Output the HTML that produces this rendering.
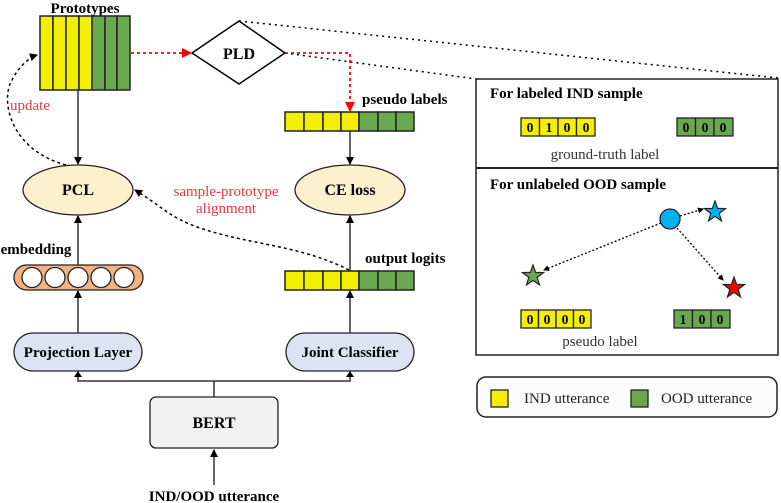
<!DOCTYPE html>
<html><head><meta charset="utf-8"><style>
html,body{margin:0;padding:0;background:#fff;}
svg{display:block;font-family:"Liberation Serif",serif;}
</style></head><body>
<svg width="781" height="503" viewBox="0 0 781 503" xmlns="http://www.w3.org/2000/svg">
<defs>
<marker id="ab" markerWidth="8" markerHeight="8" refX="7" refY="4" orient="auto" markerUnits="userSpaceOnUse"><path d="M0,0 L8,4 L0,8 z" fill="#000"/></marker>
<marker id="ar" markerWidth="10" markerHeight="10" refX="9" refY="5" orient="auto" markerUnits="userSpaceOnUse"><path d="M0,0 L10,5 L0,10 z" fill="#f00"/></marker>
<marker id="as" markerWidth="6" markerHeight="6" refX="5" refY="3" orient="auto" markerUnits="userSpaceOnUse"><path d="M0,0 L6,3 L0,6 z" fill="#000"/></marker>
</defs>
<line x1="239" y1="21" x2="778" y2="78" stroke="#000" stroke-width="1.5" stroke-dasharray="2,4"/>
<line x1="285" y1="53" x2="476" y2="79" stroke="#000" stroke-width="1.5" stroke-dasharray="2,4"/>

<text x="85" y="13" font-size="15" font-weight="bold" text-anchor="middle">Prototypes</text>
<g stroke="#222" stroke-width="1.5">
<rect x="40" y="16" width="13" height="74" fill="#f3ef00"/>
<rect x="53" y="16" width="13" height="74" fill="#f3ef00"/>
<rect x="66" y="16" width="13" height="74" fill="#f3ef00"/>
<rect x="79" y="16" width="13" height="74" fill="#f3ef00"/>
<rect x="92" y="16" width="13" height="74" fill="#6aa84f"/>
<rect x="105" y="16" width="12" height="74" fill="#6aa84f"/>
<rect x="117" y="16" width="13" height="74" fill="#6aa84f"/>
</g>
<polygon points="239,21 285,53 239,84 192,53" fill="#fff" stroke="#000" stroke-width="1.5"/>
<text x="239" y="59" font-size="16" font-weight="bold" text-anchor="middle">PLD</text>
<line x1="131" y1="53" x2="191" y2="53" stroke="#f00" stroke-width="1.8" stroke-dasharray="3,3" marker-end="url(#ar)"/>
<polyline points="285,53 350,53 350,111" fill="none" stroke="#f00" stroke-width="1.8" stroke-dasharray="3,3" marker-end="url(#ar)"/>

<text x="362" y="104" font-size="15" font-weight="bold">pseudo labels</text>
<g stroke="#222" stroke-width="1.5">
<rect x="285" y="112" width="19" height="19" fill="#f3ef00"/><rect x="304" y="112" width="19" height="19" fill="#f3ef00"/><rect x="323" y="112" width="18" height="19" fill="#f3ef00"/><rect x="341" y="112" width="18" height="19" fill="#f3ef00"/>
<rect x="359" y="112" width="19" height="19" fill="#6aa84f"/><rect x="378" y="112" width="18" height="19" fill="#6aa84f"/><rect x="396" y="112" width="18" height="19" fill="#6aa84f"/>
</g>
<line x1="350" y1="131" x2="350" y2="164" stroke="#333" stroke-width="1.5" marker-end="url(#ab)"/>

<ellipse cx="78" cy="190" rx="55" ry="25" fill="#fdf0cf" stroke="#222" stroke-width="1.3"/>
<text x="78" y="195" font-size="16" font-weight="bold" text-anchor="middle">PCL</text>
<ellipse cx="350" cy="190" rx="55" ry="25" fill="#fdf0cf" stroke="#222" stroke-width="1.3"/>
<text x="350" y="195" font-size="16" font-weight="bold" text-anchor="middle">CE loss</text>
<line x1="78" y1="90" x2="78" y2="164" stroke="#333" stroke-width="1.5" marker-end="url(#ab)"/>

<path d="M66,165 C10,150 0,100 12,80 C18,68 28,58 37,55" fill="none" stroke="#000" stroke-width="1.5" stroke-dasharray="3,3" marker-end="url(#ab)"/>
<text x="10" y="110" font-size="15" fill="#e8383d">update</text>

<path d="M349,270 C300,245 250,245 200,228 C170,218 160,205 135,190" fill="none" stroke="#000" stroke-width="1.5" stroke-dasharray="3,3" marker-end="url(#ab)"/>
<text x="226" y="196" font-size="15" fill="#e8383d" text-anchor="middle">sample-prototype</text>
<text x="226" y="213" font-size="15" fill="#e8383d" text-anchor="middle">alignment</text>

<text x="36" y="254" font-size="15" font-weight="bold" text-anchor="middle">embedding</text>
<rect x="14" y="265" width="129" height="25" rx="12.5" fill="#f4b183" stroke="#222" stroke-width="1.3"/>
<g fill="#fff" stroke="#222" stroke-width="1.3">
<circle cx="32" cy="277.5" r="10"/><circle cx="55" cy="277.5" r="10"/><circle cx="78" cy="277.5" r="10"/><circle cx="101" cy="277.5" r="10"/><circle cx="124" cy="277.5" r="10"/>
</g>
<line x1="78" y1="265" x2="78" y2="216" stroke="#333" stroke-width="1.5" marker-end="url(#ab)"/>

<text x="365" y="263" font-size="15" font-weight="bold">output logits</text>
<g stroke="#222" stroke-width="1.5">
<rect x="285" y="271" width="19" height="19" fill="#f3ef00"/><rect x="304" y="271" width="19" height="19" fill="#f3ef00"/><rect x="323" y="271" width="18" height="19" fill="#f3ef00"/><rect x="341" y="271" width="18" height="19" fill="#f3ef00"/>
<rect x="359" y="271" width="19" height="19" fill="#6aa84f"/><rect x="378" y="271" width="18" height="19" fill="#6aa84f"/><rect x="396" y="271" width="18" height="19" fill="#6aa84f"/>
</g>
<line x1="350" y1="271" x2="350" y2="216" stroke="#333" stroke-width="1.5" marker-end="url(#ab)"/>

<rect x="14" y="333" width="128" height="38" rx="19" fill="#dde3f3" stroke="#222" stroke-width="1.3"/>
<text x="78" y="357" font-size="15" font-weight="bold" text-anchor="middle">Projection Layer</text>
<rect x="286" y="333" width="128" height="38" rx="19" fill="#dde3f3" stroke="#222" stroke-width="1.3"/>
<text x="350" y="357" font-size="15" font-weight="bold" text-anchor="middle">Joint Classifier</text>
<line x1="78" y1="333" x2="78" y2="291" stroke="#333" stroke-width="1.5" marker-end="url(#ab)"/>
<line x1="350" y1="333" x2="350" y2="291" stroke="#333" stroke-width="1.5" marker-end="url(#ab)"/>
<polyline points="78,372 78,381 350,381 350,372" fill="none" stroke="#333" stroke-width="1.5"/>
<path d="M74,377 L78,371 L82,377 z M346,377 L350,371 L354,377 z" fill="#000"/>
<line x1="214" y1="381" x2="214" y2="397" stroke="#333" stroke-width="1.5"/>

<rect x="150" y="397" width="128" height="51" rx="6" fill="#f2f2f2" stroke="#222" stroke-width="1.3"/>
<text x="214" y="428" font-size="16" font-weight="bold" text-anchor="middle">BERT</text>
<line x1="214" y1="485" x2="214" y2="450" stroke="#333" stroke-width="1.5" marker-end="url(#ab)"/>
<text x="214" y="501" font-size="15" font-weight="bold" text-anchor="middle">IND/OOD utterance</text>

<rect x="476" y="79" width="302" height="276" fill="#fff" stroke="#222" stroke-width="1.5"/>
<line x1="476" y1="168" x2="778" y2="168" stroke="#222" stroke-width="2"/>
<text x="490" y="98" font-size="15" font-weight="bold">For labeled IND sample</text>
<g stroke="#222" stroke-width="1.3" fill="#f3ef00">
<rect x="521" y="118" width="18.5" height="18"/><rect x="539.5" y="118" width="18.5" height="18"/><rect x="558" y="118" width="18.5" height="18"/><rect x="576.5" y="118" width="18.5" height="18"/>
</g>
<g stroke="#222" stroke-width="1.3" fill="#6aa84f">
<rect x="677" y="118" width="18.5" height="18"/><rect x="695.5" y="118" width="18.5" height="18"/><rect x="714" y="118" width="19" height="18"/>
</g>
<g font-size="13.5" font-weight="bold" text-anchor="middle">
<text x="530" y="132">0</text><text x="549" y="132">1</text><text x="567" y="132">0</text><text x="586" y="132">0</text>
<text x="686" y="132">0</text><text x="705" y="132">0</text><text x="723" y="132">0</text>
</g>
<text x="605" y="159" font-size="15" text-anchor="middle" fill="#333">ground-truth label</text>

<text x="490" y="189" font-size="15" font-weight="bold">For unlabeled OOD sample</text>
<line x1="661" y1="223" x2="544" y2="270" stroke="#000" stroke-width="1.3" stroke-dasharray="2,2" marker-end="url(#as)"/>
<line x1="680" y1="216" x2="703" y2="209" stroke="#000" stroke-width="1.3" stroke-dasharray="2,2" marker-end="url(#as)"/>
<line x1="677" y1="228" x2="723" y2="280" stroke="#000" stroke-width="1.3" stroke-dasharray="2,2" marker-end="url(#as)"/>
<circle cx="670" cy="219" r="10" fill="#00b0f0" stroke="#222" stroke-width="1.3"/>
<g stroke="#222" stroke-width="1.2">
<polygon transform="translate(715,212)" points="0,-11 2.6,-3.6 10.5,-3.4 4.2,1.4 6.5,8.9 0,4.4 -6.5,8.9 -4.2,1.4 -10.5,-3.4 -2.6,-3.6" fill="#00b0f0"/>
<polygon transform="translate(533,276)" points="0,-11 2.6,-3.6 10.5,-3.4 4.2,1.4 6.5,8.9 0,4.4 -6.5,8.9 -4.2,1.4 -10.5,-3.4 -2.6,-3.6" fill="#6aa84f"/>
<polygon transform="translate(734,288)" points="0,-11 2.6,-3.6 10.5,-3.4 4.2,1.4 6.5,8.9 0,4.4 -6.5,8.9 -4.2,1.4 -10.5,-3.4 -2.6,-3.6" fill="#f00"/>
</g>
<g stroke="#222" stroke-width="1.3" fill="#f3ef00">
<rect x="521" y="310" width="17.5" height="18"/><rect x="538.5" y="310" width="17.5" height="18"/><rect x="556" y="310" width="17.5" height="18"/><rect x="573.5" y="310" width="17.5" height="18"/>
</g>
<g stroke="#222" stroke-width="1.3" fill="#6aa84f">
<rect x="674" y="310" width="18.5" height="18"/><rect x="692.5" y="310" width="18.5" height="18"/><rect x="711" y="310" width="19" height="18"/>
</g>
<g font-size="13.5" font-weight="bold" text-anchor="middle">
<text x="530" y="324">0</text><text x="547" y="324">0</text><text x="565" y="324">0</text><text x="582" y="324">0</text>
<text x="683" y="324">1</text><text x="702" y="324">0</text><text x="720" y="324">0</text>
</g>
<text x="600" y="346" font-size="15" text-anchor="middle" fill="#333">pseudo label</text>

<rect x="477" y="377" width="300" height="40" rx="9" fill="#fbfbfb" stroke="#222" stroke-width="1.5"/>
<rect x="491" y="390" width="17" height="17" fill="#f3ef00" stroke="#222" stroke-width="1.3"/>
<text x="524" y="403" font-size="15" fill="#222">IND utterance</text>
<rect x="631" y="390" width="17" height="17" fill="#6aa84f" stroke="#222" stroke-width="1.3"/>
<text x="661" y="403" font-size="15" fill="#222">OOD utterance</text>
</svg>
</body></html>
